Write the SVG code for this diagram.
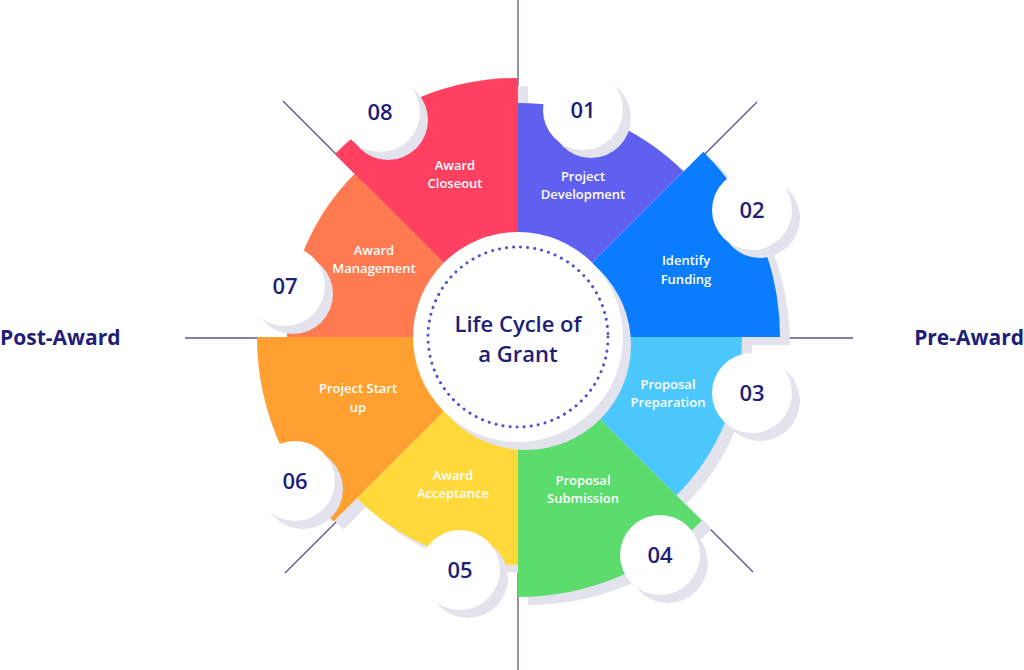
<svg xmlns="http://www.w3.org/2000/svg" width="1024" height="670" viewBox="0 0 1024 670">
<style>
.ax{stroke:#55558a;stroke-width:1.3;fill:none}
.sh{fill:#e3e3ee}
.lb{font-family:"Open Sans",sans-serif;font-size:13px;font-weight:600;fill:#fff;text-anchor:middle}
.num{font-family:"Open Sans",sans-serif;font-size:22px;font-weight:600;fill:#1e1e78;text-anchor:middle}
.side{font-family:"Open Sans",sans-serif;font-size:21px;font-weight:700;fill:#1e1e78}
.nc{fill:#fff}
</style>
<rect width="1024" height="670" fill="#fff"/>
<g id="connectors">
<line class="ax" x1="518" y1="0" x2="518" y2="670"/>
<line class="ax" x1="185" y1="338" x2="853" y2="338"/>
<line class="ax" x1="283" y1="101" x2="753" y2="572"/>
<line class="ax" x1="757" y1="102" x2="285" y2="573"/>
</g>
<g id="shadows" transform="translate(10,8)">
<path class="sh" d="M518,337 L518,103 A234,234 0 0 1 683.5,171.5Z"/>
<path class="sh" d="M518,337 L703.3,151.7 A262,262 0 0 1 780,337Z"/>
<path class="sh" d="M518,337 L742,337 A224,224 0 0 1 676.4,495.4Z"/>
<path class="sh" d="M518,337 L701.8,520.8 A260,260 0 0 1 518,597Z"/>
<path class="sh" d="M518,337 L518,565 A228,228 0 0 1 356.8,498.2Z"/>
<path class="sh" d="M518,337 L333.4,521.6 A261,261 0 0 1 257,337Z"/>
<path class="sh" d="M518,337 L287,337 A231,231 0 0 1 354.7,173.7Z"/>
<path class="sh" d="M518,337 L334.9,153.9 A259,259 0 0 1 518,78Z"/>
</g>
<g id="seg01"><path fill="#6060f0" d="M518,337 L518,103 A234,234 0 0 1 683.5,171.5Z"/></g>
<g id="seg02"><path fill="#0a7cff" d="M518,337 L703.3,151.7 A262,262 0 0 1 780,337Z"/></g>
<g id="seg03"><path fill="#4dc8ff" d="M518,337 L742,337 A224,224 0 0 1 676.4,495.4Z"/></g>
<g id="seg04"><path fill="#5ddc6e" d="M518,337 L701.8,520.8 A260,260 0 0 1 518,597Z"/></g>
<g id="seg05"><path fill="#ffd83a" d="M518,337 L518,565 A228,228 0 0 1 356.8,498.2Z"/></g>
<g id="seg06"><path fill="#ffa030" d="M518,337 L333.4,521.6 A261,261 0 0 1 257,337Z"/></g>
<g id="seg07"><path fill="#ff7a50" d="M518,337 L287,337 A231,231 0 0 1 354.7,173.7Z"/></g>
<g id="seg08"><path fill="#ff4060" d="M518,337 L334.9,153.9 A259,259 0 0 1 518,78Z"/></g>
<g id="center">
<circle cx="526" cy="345" r="105" fill="#e3e3ee"/>
<circle cx="518" cy="337" r="105" fill="#fff"/>
<circle cx="518" cy="337" r="90" fill="none" stroke="#5050d0" stroke-width="3" stroke-dasharray="0.1 7" stroke-linecap="round"/>
<text x="518" y="332" class="num" font-size="23">Life Cycle of</text>
<text x="518" y="362" class="num" font-size="23">a Grant</text>
</g>
<g id="numbers">
<g id="n01"><circle class="sh" cx="591" cy="118" r="40"/><circle class="nc" cx="583" cy="110" r="40"/><text class="num" x="583" y="118">01</text></g>
<g id="n02"><circle class="sh" cx="760" cy="218" r="40"/><circle class="nc" cx="752" cy="210" r="40"/><text class="num" x="752" y="218">02</text></g>
<g id="n03"><circle class="sh" cx="760" cy="401" r="40"/><circle class="nc" cx="752" cy="393" r="40"/><text class="num" x="752" y="401">03</text></g>
<g id="n04"><circle class="sh" cx="668" cy="563" r="40"/><circle class="nc" cx="660" cy="555" r="40"/><text class="num" x="660" y="563">04</text></g>
<g id="n05"><circle class="sh" cx="468" cy="578" r="40"/><circle class="nc" cx="460" cy="570" r="40"/><text class="num" x="460" y="578">05</text></g>
<g id="n06"><circle class="sh" cx="303" cy="489" r="40"/><circle class="nc" cx="295" cy="481" r="40"/><text class="num" x="295" y="489">06</text></g>
<g id="n07"><circle class="sh" cx="293" cy="294" r="40"/><circle class="nc" cx="285" cy="286" r="40"/><text class="num" x="285" y="294">07</text></g>
<g id="n08"><circle class="sh" cx="388" cy="120" r="40"/><circle class="nc" cx="380" cy="112" r="40"/><text class="num" x="380" y="120">08</text></g>
</g>
<g id="labels">
<text class="lb" x="583" y="181">Project</text><text class="lb" x="583" y="199">Development</text>
<text class="lb" x="686" y="265">Identify</text><text class="lb" x="686" y="284">Funding</text>
<text class="lb" x="668" y="389">Proposal</text><text class="lb" x="668" y="407">Preparation</text>
<text class="lb" x="583" y="485">Proposal</text><text class="lb" x="583" y="503">Submission</text>
<text class="lb" x="453" y="480">Award</text><text class="lb" x="453" y="498">Acceptance</text>
<text class="lb" x="358" y="393">Project Start</text><text class="lb" x="358" y="412">up</text>
<text class="lb" x="374" y="255">Award</text><text class="lb" x="374" y="273">Management</text>
<text class="lb" x="455" y="170">Award</text><text class="lb" x="455" y="188">Closeout</text>
</g>
<text class="side" x="0" y="345">Post-Award</text>
<text class="side" x="1024" y="345" text-anchor="end">Pre-Award</text>
</svg>
